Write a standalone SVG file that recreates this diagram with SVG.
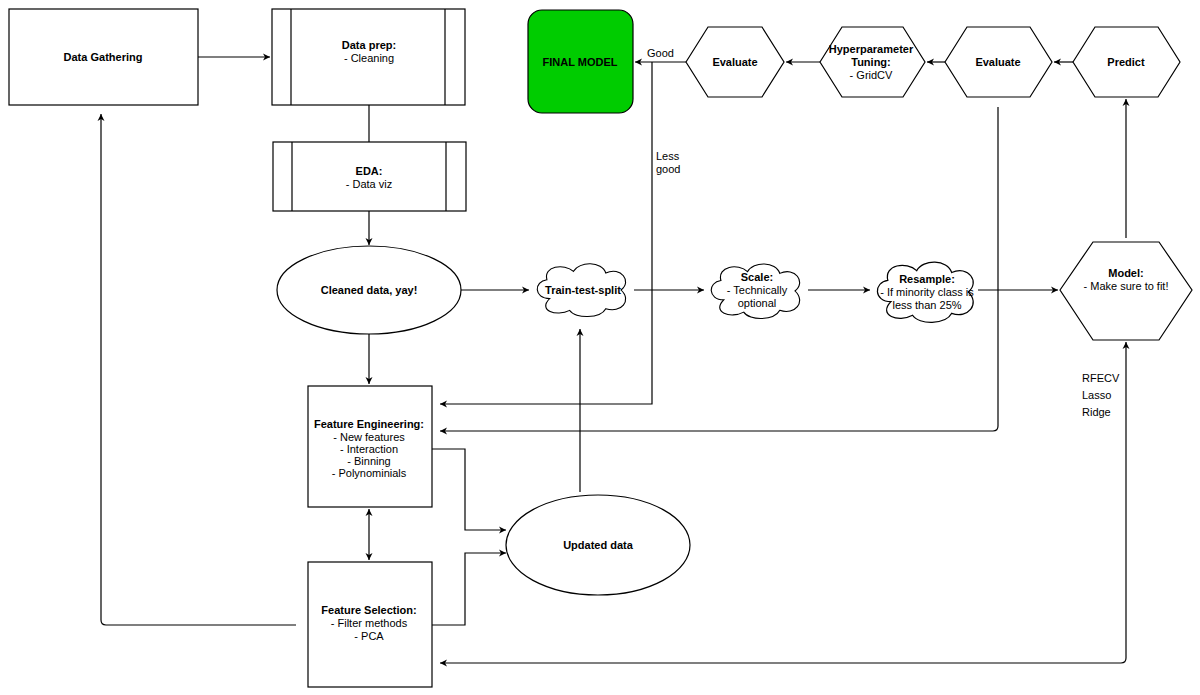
<svg xmlns="http://www.w3.org/2000/svg" width="1200" height="695" viewBox="0 0 1200 695">
<style>
.s{fill:#fff;stroke:#000;stroke-width:1.2}
.c{fill:none;stroke:#000;stroke-width:1.2}
text{font-family:"Liberation Sans",Arial,sans-serif;font-size:11px;text-anchor:middle;fill:#000}
.b{font-weight:bold}
.l{text-anchor:start}
</style>
<defs>
<marker id="a" markerWidth="8" markerHeight="8" refX="7" refY="4" orient="auto-start-reverse" markerUnits="userSpaceOnUse"><path d="M0,0.5 L7,4 L0,7.5 L2,4 Z" fill="#000"/></marker>
<path id="cloud" d="M-35,10 C-52,10 -52,-10 -38,-12 C-42,-28 -20,-32 -10,-22 C-4,-34 20,-34 24,-20 C40,-28 52,-10 40,0 C52,12 40,28 24,22 C18,34 -8,34 -14,24 C-28,32 -48,24 -35,10 Z"/>
</defs>
<g id="connectors">
<path class="c" d="M198,57 H270" marker-end="url(#a)"/>
<path class="c" d="M369,105 V142"/>
<path class="c" d="M369,211 V245" marker-end="url(#a)"/>
<path class="c" d="M461,290 H529" marker-end="url(#a)"/>
<path class="c" d="M634,290 H704" marker-end="url(#a)"/>
<path class="c" d="M808,290 H870" marker-end="url(#a)"/>
<path class="c" d="M978,290 H1058" marker-end="url(#a)"/>
<path class="c" d="M1126,238 V99" marker-end="url(#a)"/>
<path class="c" d="M1073,62 H1054" marker-end="url(#a)"/>
<path class="c" d="M945,62 H927" marker-end="url(#a)"/>
<path class="c" d="M820,62 H786" marker-end="url(#a)"/>
<path class="c" d="M686,62 H635" marker-end="url(#a)"/>
<path class="c" d="M652,62 V404 H440" marker-end="url(#a)"/>
<path class="c" d="M998,107 V426 Q998,431 993,431 H440" marker-end="url(#a)"/>
<path class="c" d="M369,334 V384" marker-end="url(#a)"/>
<path class="c" d="M432,449 H465 V530 H506" marker-end="url(#a)"/>
<path class="c" d="M580,492 V329" marker-end="url(#a)"/>
<path class="c" d="M369,509 V560" marker-start="url(#a)" marker-end="url(#a)"/>
<path class="c" d="M432,625 H465 V553 H506" marker-end="url(#a)"/>
<path class="c" d="M296,625 H106 Q101,625 101,620 V114" marker-end="url(#a)"/>
<path class="c" d="M440,663 H1121 Q1126,663 1126,658 V342" marker-start="url(#a)" marker-end="url(#a)"/>
<text class="l" x="647" y="57">Good</text>
<text class="l" x="656" y="160">Less</text>
<text class="l" x="656" y="173">good</text>
<text class="l" x="1082" y="382">RFECV</text>
<text class="l" x="1082" y="399">Lasso</text>
<text class="l" x="1082" y="416">Ridge</text>
</g>
<g id="data-gathering"><rect class="s" x="9" y="9" width="189" height="96"/><text class="b" x="103" y="61">Data Gathering</text></g>
<g id="data-prep"><rect class="s" x="272" y="9" width="193" height="96"/><path class="c" d="M291,9 V105 M445,9 V105"/><text class="b" x="369" y="49">Data prep:</text><text x="369" y="62">- Cleaning</text></g>
<g id="eda"><rect class="s" x="273" y="142" width="193" height="69"/><path class="c" d="M292,142 V211 M446,142 V211"/><text class="b" x="369" y="175">EDA:</text><text x="369" y="188">- Data viz</text></g>
<g id="cleaned"><ellipse class="s" cx="369" cy="290" rx="92" ry="44"/><text class="b" x="369" y="294">Cleaned data, yay!</text></g>
<g id="tts"><use href="#cloud" class="s" transform="translate(583,290) scale(0.95,0.85)"/><text class="b" x="583" y="294">Train-test-split</text></g>
<g id="scale"><use href="#cloud" class="s" transform="translate(757,291) scale(0.95,0.88)"/><text class="b" x="757" y="281">Scale:</text><text x="757" y="294">- Technically</text><text x="757" y="307">optional</text></g>
<g id="resample"><use href="#cloud" class="s" transform="translate(927,292) scale(1.03,0.97)"/><text class="b" x="927" y="283">Resample:</text><text x="927" y="296">- If minority class is</text><text x="927" y="309">less than 25%</text></g>
<g id="model"><path class="s" d="M1060,290 L1093,242 H1159 L1192,290 L1159,340 H1093 Z"/><text class="b" x="1126" y="277">Model:</text><text x="1126" y="290">- Make sure to fit!</text></g>
<g id="predict"><path class="s" d="M1073,62 L1095,27 H1158 L1180,62 L1158,97 H1095 Z"/><text class="b" x="1126" y="66">Predict</text></g>
<g id="evaluate2"><path class="s" d="M945,62 L967,27 H1030 L1052,62 L1030,97 H967 Z"/><text class="b" x="998" y="66">Evaluate</text></g>
<g id="hyper"><path class="s" d="M820,62 L842,27 H903 L925,62 L903,97 H842 Z"/><text class="b" x="871" y="53">Hyperparameter</text><text class="b" x="871" y="66">Tuning:</text><text x="871" y="79">- GridCV</text></g>
<g id="evaluate1"><path class="s" d="M686,62 L708,27 H762 L784,62 L762,97 H708 Z"/><text class="b" x="735" y="66">Evaluate</text></g>
<g id="final"><rect x="528" y="10" width="105" height="103" rx="14" fill="#00CC00" stroke="#000" stroke-width="1.2"/><text class="b" x="580" y="66">FINAL MODEL</text></g>
<g id="fe"><rect class="s" x="308" y="386" width="124" height="121"/><text class="b" x="369" y="428">Feature Engineering:</text><text x="369" y="441">- New features</text><text x="369" y="453">- Interaction</text><text x="369" y="465">- Binning</text><text x="369" y="477">- Polynominials</text></g>
<g id="updated"><ellipse class="s" cx="598" cy="545" rx="92" ry="50"/><text class="b" x="598" y="549">Updated data</text></g>
<g id="fs"><rect class="s" x="308" y="562" width="124" height="125"/><text class="b" x="369" y="614">Feature Selection:</text><text x="369" y="627">- Filter methods</text><text x="369" y="640">- PCA</text></g>
</svg>
